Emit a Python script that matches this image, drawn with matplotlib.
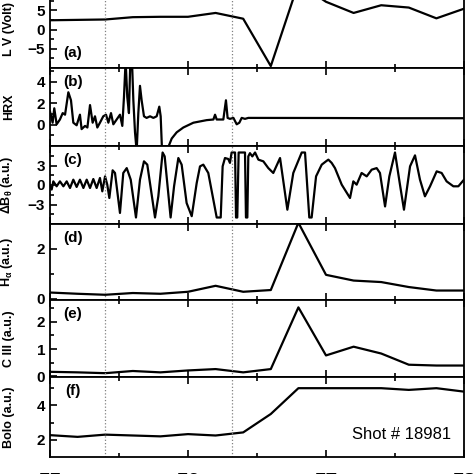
import matplotlib as mpl
mpl.use('Agg')
import matplotlib.pyplot as plt
from matplotlib.ticker import MultipleLocator, FixedLocator

plt.rcParams['font.family'] = ['Liberation Sans', 'DejaVu Sans']
plt.rcParams['font.weight'] = 'bold'
plt.rcParams['mathtext.fontset'] = 'custom'
plt.rcParams['mathtext.rm'] = 'Liberation Sans:bold'
plt.rcParams['mathtext.it'] = 'Liberation Sans:bold'

# coarse signals sampled every 0.2 ms
t_coarse = [55.0, 55.2, 55.4, 55.6, 55.8, 56.0, 56.2, 56.4, 56.6, 56.8, 57.0, 57.2, 57.4, 57.6, 57.8, 58.0]
loop_v = [2.4, 2.5, 2.6, 3.2, 3.3, 3.3, 4.3, 2.8, -9.5, 12.0, 7.2, 4.3, 6.3, 5.7, 2.9, 5.4]
h_alpha = [0.25, 0.2, 0.16, 0.23, 0.2, 0.28, 0.52, 0.28, 0.35, 3.05, 0.96, 0.73, 0.67, 0.47, 0.33, 0.33]
c_iii = [0.17, 0.15, 0.12, 0.2, 0.15, 0.22, 0.27, 0.15, 0.27, 2.53, 0.77, 1.09, 0.84, 0.43, 0.4, 0.4]
bolo = [2.27, 2.17, 2.3, 2.25, 2.2, 2.33, 2.25, 2.43, 3.5, 5.0, 5.0, 5.0, 5.0, 4.9, 5.0, 4.8]

# hard x-ray
t_hrx = [55.0, 55.019, 55.031, 55.048, 55.072, 55.092, 55.109, 55.133, 55.152, 55.169, 55.193, 55.217,
         55.229, 55.254, 55.271, 55.29, 55.309, 55.326, 55.343, 55.362, 55.386, 55.406, 55.423, 55.442,
         55.459, 55.483, 55.507, 55.524, 55.536, 55.548, 55.56, 55.572, 55.582, 55.594, 55.604, 55.616,
         55.628, 55.64, 55.652, 55.664, 55.681, 55.7, 55.725, 55.749, 55.773, 55.792, 55.802, 55.812,
         55.845, 55.882, 55.918, 55.966, 56.039, 56.135, 56.184, 56.196, 56.208, 56.256, 56.275, 56.287,
         56.304, 56.329, 56.353, 56.372, 56.389, 56.413, 56.437, 57.0, 57.5, 58.0]
hrx = [1.23, 0.18, 1.53, 0.03, 0.48, 1.08, 0.93, 3.03, 2.28, 0.18, -0.06, 0.93,
       -0.42, -0.12, -0.27, 1.83, 0.18, 0.78, -0.27, 0.18, 0.78, 0.93, 0.18, 1.08,
       0.03, 0.48, 0.93, -0.12, 2.58, 6.0, 2.58, 1.08, 6.0, 6.0, 2.28, -0.72,
       -2.5, 1.08, 3.63, 2.28, 0.78, 0.63, 0.78, 0.63, 0.78, 1.68, 0.78, -2.5,
       -2.5, -1.3, -0.72, -0.27, 0.18, 0.42, 0.48, 0.93, 0.48, 0.48, 2.28, 0.63,
       0.54, 0.63, 0.03, 0.18, 0.63, 0.54, 0.63, 0.62, 0.6, 0.6]

# poloidal field fluctuation
t_db = [55.0, 55.012, 55.024, 55.048, 55.072, 55.097, 55.121, 55.145, 55.169, 55.193, 55.217, 55.242,
        55.266, 55.29, 55.314, 55.338, 55.362, 55.379, 55.399, 55.415, 55.43, 55.454, 55.471, 55.507,
        55.531, 55.556, 55.585, 55.623, 55.652, 55.681, 55.705, 55.761, 55.785, 55.816, 55.831, 55.874,
        55.899, 55.93, 55.954, 55.99, 56.027, 56.063, 56.087, 56.111, 56.147, 56.208, 56.237, 56.251,
        56.268, 56.292, 56.304, 56.316, 56.341, 56.348, 56.357, 56.367, 56.413, 56.42, 56.43, 56.437,
        56.449, 56.466, 56.486, 56.51, 56.546, 56.582, 56.618, 56.667, 56.72, 56.763, 56.824, 56.848,
        56.879, 56.896, 56.928, 56.969, 57.0, 57.017, 57.041, 57.065, 57.114, 57.174, 57.198, 57.222,
        57.258, 57.295, 57.331, 57.367, 57.391, 57.428, 57.459, 57.5, 57.536, 57.565, 57.609, 57.645,
        57.681, 57.717, 57.754, 57.802, 57.838, 57.874, 57.923, 57.959, 58.0]
dbtheta = [-0.2, -0.7, 0.56, -0.2, 0.56, -0.2, 0.56, -0.46, 0.82, -0.3, 0.82, -0.46,
           0.82, -0.46, 0.92, -0.46, 1.08, -0.97, 1.33, 0.05, -2.0, 2.26, 1.85, -4.3,
           1.85, 2.6, 0.82, -5.0, 0.82, 3.64, 3.13, -5.0, -1.74, 5.0, 4.4, -5.0,
           -0.2, 4.15, 3.13, -2.77, -4.8, 0.3, 2.87, 3.13, 1.85, -5.0, -5.0, 2.87,
           4.15, 4.0, 3.4, 5.0, 5.0, -5.0, -5.0, 5.0, 5.0, -5.0, -5.0, 4.4,
           4.9, 4.4, 5.0, 3.9, 3.64, 2.6, 1.85, 4.15, -3.8, 1.85, 5.0, 5.0,
           -5.0, -5.0, 1.33, 3.13, 3.64, 3.9, 3.4, 2.6, 0.05, -2.0, 0.56, 0.05,
           1.85, 1.33, 2.36, 2.6, 1.85, -3.3, 1.33, 5.0, 0.05, -3.8, 2.87, 4.56,
           0.82, -1.74, -0.2, 2.1, 1.85, 0.56, -0.2, -0.2, 0.82]

event_times = [55.4, 56.32]

panels = [
    (t_coarse, loop_v, 'L V (Volt)', '(a)', (-10, 10), [-5, 0, 5], [-7.5, -2.5, 2.5, 7.5]),
    (t_hrx, hrx, 'HRX', '(b)', (-2, 5.3), [0, 2, 4], [-1, 1, 3, 5]),
    (t_db, dbtheta, r'$\Delta$B$_\theta$ (a.u.)', '(c)', (-6, 6), [-3, 0, 3], [-4.5, -1.5, 1.5, 4.5]),
    (t_coarse, h_alpha, r'H$_\alpha$ (a.u.)', '(d)', (-0.05, 3.0), [0, 2], [1]),
    (t_coarse, c_iii, 'C III (a.u.)', '(e)', (-0.02, 2.8), [0, 1, 2], [0.5, 1.5, 2.5]),
    (t_coarse, bolo, 'Bolo (a.u.)', '(f)', (1, 5.65), [2, 4], [3, 5]),
]
edges = [-9, 68, 146, 224, 300, 377, 457]

fig = plt.figure(figsize=(4.74, 4.74), dpi=100)
for i, (t, v, lab, tag, yl, majors, minors) in enumerate(panels):
    top, bot = edges[i], edges[i + 1]
    ax = fig.add_axes([50 / 474, 1 - bot / 474, 414 / 474, (bot - top) / 474])
    ax.plot(t, v, color='black', lw=1.6)
    for et in event_times:
        ax.axvline(et, color='gray', ls=':', lw=0.9)
    ax.set_xlim(55, 58)
    ax.set_ylim(*yl)
    ax.yaxis.set_major_locator(FixedLocator(majors))
    ax.yaxis.set_minor_locator(FixedLocator(minors))
    ax.xaxis.set_major_locator(MultipleLocator(1))
    ax.xaxis.set_minor_locator(MultipleLocator(0.5))
    ax.tick_params(which='both', direction='in', top=True, right=False, labelsize=11, width=1.2)
    ax.tick_params(which='major', length=5)
    ax.tick_params(which='minor', length=3)
    for s in ax.spines.values():
        s.set_linewidth(1.3)
    ax.set_ylabel(lab, fontsize=9, fontweight='bold')
    ax.yaxis.set_label_coords(-0.085, 0.5)
    ax.text(0.055, 0.2 if i == 0 else 0.82, tag, transform=ax.transAxes, fontsize=11,
            fontweight='bold', ha='center', va='center')
    if i < 5:
        ax.tick_params(labelbottom=False)
    else:
        ax.tick_params(axis='x', labelsize=15, pad=11)
        ax.text(0.85, 0.28, 'Shot # 18981', transform=ax.transAxes, fontsize=12,
                fontweight='normal', ha='center', va='center')

fig.savefig('out.png', dpi=100)
plt.close(fig)
